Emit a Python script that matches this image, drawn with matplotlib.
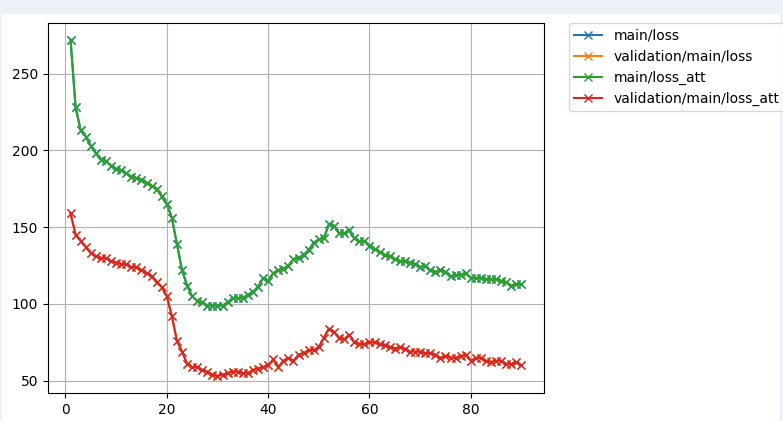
import matplotlib
matplotlib.use("Agg")
import matplotlib.pyplot as plt
from matplotlib.patches import Rectangle

epochs = list(range(1, 91))

loss_att = [272, 228, 213, 209, 203, 198, 194, 193, 190, 188,
            187, 185, 183, 182, 181, 179, 177, 175, 170, 165,
            156, 139, 122, 112, 105, 102, 101, 99, 99, 99,
            99, 101, 104, 104, 104, 106, 108, 111, 117, 115,
            120, 122, 123, 125, 129, 130, 132, 135, 140, 142,
            143, 152, 151, 146, 146, 148, 143, 141, 141, 138,
            136, 134, 132, 131, 129, 128, 128, 127, 126, 124,
            125, 122, 121, 122, 121, 118, 119, 119, 120, 117,
            117, 117, 116, 116, 116, 115, 114, 112, 113, 113]

val_loss_att = [159, 145, 141, 137, 133, 131, 130, 130, 128, 127,
                126, 126, 124, 124, 122, 120, 118, 114, 111, 105,
                92, 76, 69, 61, 59, 59, 57, 56, 54, 53,
                54, 55, 56, 56, 55, 55, 57, 58, 59, 60,
                64, 59, 63, 65, 63, 67, 68, 70, 70, 72,
                78, 84, 82, 78, 77, 80, 75, 74, 74, 75,
                75, 74, 73, 72, 71, 72, 71, 69, 69, 69,
                68, 68, 67, 65, 66, 65, 65, 66, 67, 63,
                65, 65, 63, 62, 63, 63, 61, 61, 62, 60]

# ctc weight is zero, so total loss equals the attention loss
main_loss = loss_att
val_main_loss = val_loss_att

fig = plt.figure(figsize=(7.83, 4.21), dpi=100)
fig.patch.set_facecolor('#eef2f8')
fig.patches.append(Rectangle((2 / 783, 0), 778 / 783, 407 / 421,
                             transform=fig.transFigure, facecolor='white',
                             edgecolor='none', zorder=-10))

ax = fig.add_axes([0.0613, 0.0665, 0.6335, 0.8789])
ax.plot(epochs, main_loss, marker='x', label='main/loss')
ax.plot(epochs, val_main_loss, marker='x', label='validation/main/loss')
ax.plot(epochs, loss_att, marker='x', label='main/loss_att')
ax.plot(epochs, val_loss_att, marker='x', label='validation/main/loss_att')
ax.grid(True)
ax.legend(bbox_to_anchor=(1.05, 1), loc='upper left', borderaxespad=0)

fig.savefig('out.png', dpi=100, facecolor=fig.get_facecolor())
